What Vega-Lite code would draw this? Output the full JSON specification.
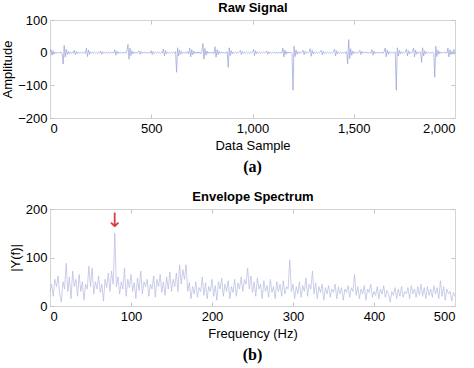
{
  "$schema": "https://vega.github.io/schema/vega-lite/v6.json",
  "padding": {"left": 1, "top": 1, "right": 4, "bottom": 0},
  "background": "white",
  "config": {
    "view": {"stroke": "#d4d4d4", "strokeWidth": 1},
    "font": "Liberation Sans",
    "axis": {"grid": false, "domainColor": "#d4d4d4", "tickColor": "#c4c4c4", "tickSize": -4, "labelFontSize": 13, "labelColor": "black", "titleFontSize": 13, "titleFontWeight": "normal", "titleColor": "black", "titlePadding": 4},
    "axisX": {"labelPadding": 8},
    "axisY": {"labelPadding": 7, "titlePadding": 3},
    "title": {"orient": "bottom", "font": "Liberation Serif", "fontSize": 16, "fontWeight": "bold", "anchor": "middle", "offset": 7, "color": "black"},
    "concat": {"spacing": 14}
  },
  "datasets": {
    "raw": [
      {"sample":0,"amplitude":2},{"sample":5,"amplitude":10},{"sample":10,"amplitude":-8},{"sample":15,"amplitude":6},{"sample":20,"amplitude":-4},{"sample":25,"amplitude":2},{"sample":30,"amplitude":-1},{"sample":35,"amplitude":1},{"sample":40,"amplitude":-2},{"sample":45,"amplitude":1},
      {"sample":50,"amplitude":-1},{"sample":55,"amplitude":2},{"sample":60,"amplitude":-3},{"sample":65,"amplitude":-35},{"sample":70,"amplitude":22},{"sample":75,"amplitude":-14},{"sample":80,"amplitude":10},{"sample":85,"amplitude":-6},{"sample":90,"amplitude":4},{"sample":95,"amplitude":-3},
      {"sample":100,"amplitude":2},{"sample":105,"amplitude":-2},{"sample":110,"amplitude":1},{"sample":115,"amplitude":-1},{"sample":120,"amplitude":7},{"sample":125,"amplitude":-6},{"sample":130,"amplitude":4},{"sample":135,"amplitude":-3},{"sample":140,"amplitude":2},{"sample":145,"amplitude":-1},
      {"sample":150,"amplitude":1},{"sample":155,"amplitude":-2},{"sample":160,"amplitude":1},{"sample":165,"amplitude":-1},{"sample":170,"amplitude":2},{"sample":175,"amplitude":-2},{"sample":180,"amplitude":14},{"sample":185,"amplitude":-12},{"sample":190,"amplitude":8},{"sample":195,"amplitude":-5},
      {"sample":200,"amplitude":3},{"sample":205,"amplitude":-2},{"sample":210,"amplitude":1},{"sample":215,"amplitude":-1},{"sample":220,"amplitude":2},{"sample":225,"amplitude":-1},{"sample":230,"amplitude":1},{"sample":235,"amplitude":-2},{"sample":240,"amplitude":1},{"sample":245,"amplitude":-1},
      {"sample":250,"amplitude":5},{"sample":255,"amplitude":-5},{"sample":260,"amplitude":3},{"sample":265,"amplitude":-2},{"sample":270,"amplitude":1},{"sample":275,"amplitude":-1},{"sample":280,"amplitude":2},{"sample":285,"amplitude":-1},{"sample":290,"amplitude":1},{"sample":295,"amplitude":-1},
      {"sample":300,"amplitude":2},{"sample":305,"amplitude":-2},{"sample":310,"amplitude":1},{"sample":315,"amplitude":-1},{"sample":320,"amplitude":9},{"sample":325,"amplitude":-8},{"sample":330,"amplitude":5},{"sample":335,"amplitude":-3},{"sample":340,"amplitude":2},{"sample":345,"amplitude":-1},
      {"sample":350,"amplitude":1},{"sample":355,"amplitude":-2},{"sample":360,"amplitude":1},{"sample":365,"amplitude":-1},{"sample":370,"amplitude":2},{"sample":375,"amplitude":-2},{"sample":380,"amplitude":6},{"sample":385,"amplitude":25},{"sample":390,"amplitude":-20},{"sample":395,"amplitude":14},
      {"sample":400,"amplitude":-9},{"sample":405,"amplitude":6},{"sample":410,"amplitude":-4},{"sample":415,"amplitude":2},{"sample":420,"amplitude":-1},{"sample":425,"amplitude":1},{"sample":430,"amplitude":-2},{"sample":435,"amplitude":1},{"sample":440,"amplitude":5},{"sample":445,"amplitude":-5},
      {"sample":450,"amplitude":3},{"sample":455,"amplitude":-2},{"sample":460,"amplitude":1},{"sample":465,"amplitude":-1},{"sample":470,"amplitude":2},{"sample":475,"amplitude":-1},{"sample":480,"amplitude":1},{"sample":485,"amplitude":-2},{"sample":490,"amplitude":1},{"sample":495,"amplitude":-1},
      {"sample":500,"amplitude":6},{"sample":505,"amplitude":-6},{"sample":510,"amplitude":4},{"sample":515,"amplitude":-2},{"sample":520,"amplitude":1},{"sample":525,"amplitude":-1},{"sample":530,"amplitude":2},{"sample":535,"amplitude":-1},{"sample":540,"amplitude":1},{"sample":545,"amplitude":-2},
      {"sample":550,"amplitude":1},{"sample":555,"amplitude":-1},{"sample":560,"amplitude":11},{"sample":565,"amplitude":-10},{"sample":570,"amplitude":7},{"sample":575,"amplitude":-4},{"sample":580,"amplitude":2},{"sample":585,"amplitude":-1},{"sample":590,"amplitude":1},{"sample":595,"amplitude":-2},
      {"sample":600,"amplitude":1},{"sample":605,"amplitude":-1},{"sample":610,"amplitude":2},{"sample":615,"amplitude":-1},{"sample":620,"amplitude":3},{"sample":625,"amplitude":-60},{"sample":630,"amplitude":15},{"sample":635,"amplitude":-10},{"sample":640,"amplitude":8},{"sample":645,"amplitude":-5},
      {"sample":650,"amplitude":3},{"sample":655,"amplitude":-2},{"sample":660,"amplitude":1},{"sample":665,"amplitude":-1},{"sample":670,"amplitude":2},{"sample":675,"amplitude":-2},{"sample":680,"amplitude":3},{"sample":685,"amplitude":-4},{"sample":690,"amplitude":14},{"sample":695,"amplitude":-13},
      {"sample":700,"amplitude":9},{"sample":705,"amplitude":-6},{"sample":710,"amplitude":5},{"sample":715,"amplitude":-3},{"sample":720,"amplitude":2},{"sample":725,"amplitude":-2},{"sample":730,"amplitude":3},{"sample":735,"amplitude":-2},{"sample":740,"amplitude":2},{"sample":745,"amplitude":-3},
      {"sample":750,"amplitude":4},{"sample":755,"amplitude":28},{"sample":760,"amplitude":-20},{"sample":765,"amplitude":13},{"sample":770,"amplitude":-8},{"sample":775,"amplitude":5},{"sample":780,"amplitude":-3},{"sample":785,"amplitude":2},{"sample":790,"amplitude":-1},{"sample":795,"amplitude":1},
      {"sample":800,"amplitude":-2},{"sample":805,"amplitude":2},{"sample":810,"amplitude":-3},{"sample":815,"amplitude":18},{"sample":820,"amplitude":-14},{"sample":825,"amplitude":9},{"sample":830,"amplitude":-6},{"sample":835,"amplitude":4},{"sample":840,"amplitude":-2},{"sample":845,"amplitude":1},
      {"sample":850,"amplitude":-1},{"sample":855,"amplitude":2},{"sample":860,"amplitude":-1},{"sample":865,"amplitude":1},{"sample":870,"amplitude":-2},{"sample":875,"amplitude":3},{"sample":880,"amplitude":-45},{"sample":885,"amplitude":15},{"sample":890,"amplitude":-9},{"sample":895,"amplitude":6},
      {"sample":900,"amplitude":-4},{"sample":905,"amplitude":2},{"sample":910,"amplitude":-1},{"sample":915,"amplitude":1},{"sample":920,"amplitude":-2},{"sample":925,"amplitude":1},{"sample":930,"amplitude":-1},{"sample":935,"amplitude":2},{"sample":940,"amplitude":7},{"sample":945,"amplitude":-6},
      {"sample":950,"amplitude":4},{"sample":955,"amplitude":-2},{"sample":960,"amplitude":1},{"sample":965,"amplitude":-1},{"sample":970,"amplitude":2},{"sample":975,"amplitude":-1},{"sample":980,"amplitude":1},{"sample":985,"amplitude":-2},{"sample":990,"amplitude":1},{"sample":995,"amplitude":-1},
      {"sample":1000,"amplitude":3},{"sample":1005,"amplitude":10},{"sample":1010,"amplitude":-9},{"sample":1015,"amplitude":6},{"sample":1020,"amplitude":-3},{"sample":1025,"amplitude":2},{"sample":1030,"amplitude":-1},{"sample":1035,"amplitude":1},{"sample":1040,"amplitude":-2},{"sample":1045,"amplitude":1},
      {"sample":1050,"amplitude":-1},{"sample":1055,"amplitude":2},{"sample":1060,"amplitude":-1},{"sample":1065,"amplitude":1},{"sample":1070,"amplitude":5},{"sample":1075,"amplitude":-5},{"sample":1080,"amplitude":3},{"sample":1085,"amplitude":-2},{"sample":1090,"amplitude":1},{"sample":1095,"amplitude":-1},
      {"sample":1100,"amplitude":2},{"sample":1105,"amplitude":-1},{"sample":1110,"amplitude":1},{"sample":1115,"amplitude":-2},{"sample":1120,"amplitude":1},{"sample":1125,"amplitude":-1},{"sample":1130,"amplitude":2},{"sample":1135,"amplitude":-2},{"sample":1140,"amplitude":1},{"sample":1145,"amplitude":-1},
      {"sample":1150,"amplitude":14},{"sample":1155,"amplitude":-13},{"sample":1160,"amplitude":8},{"sample":1165,"amplitude":-5},{"sample":1170,"amplitude":3},{"sample":1175,"amplitude":-2},{"sample":1180,"amplitude":2},{"sample":1185,"amplitude":-1},{"sample":1190,"amplitude":2},{"sample":1195,"amplitude":-3},
      {"sample":1200,"amplitude":-115},{"sample":1205,"amplitude":20},{"sample":1210,"amplitude":-12},{"sample":1215,"amplitude":8},{"sample":1220,"amplitude":-5},{"sample":1225,"amplitude":3},{"sample":1230,"amplitude":-2},{"sample":1235,"amplitude":1},{"sample":1240,"amplitude":-1},{"sample":1245,"amplitude":2},
      {"sample":1250,"amplitude":7},{"sample":1255,"amplitude":-6},{"sample":1260,"amplitude":4},{"sample":1265,"amplitude":-2},{"sample":1270,"amplitude":1},{"sample":1275,"amplitude":-1},{"sample":1280,"amplitude":2},{"sample":1285,"amplitude":12},{"sample":1290,"amplitude":-11},{"sample":1295,"amplitude":7},
      {"sample":1300,"amplitude":-4},{"sample":1305,"amplitude":2},{"sample":1310,"amplitude":-1},{"sample":1315,"amplitude":1},{"sample":1320,"amplitude":-2},{"sample":1325,"amplitude":1},{"sample":1330,"amplitude":-1},{"sample":1335,"amplitude":2},{"sample":1340,"amplitude":7},{"sample":1345,"amplitude":-7},
      {"sample":1350,"amplitude":4},{"sample":1355,"amplitude":-2},{"sample":1360,"amplitude":1},{"sample":1365,"amplitude":-1},{"sample":1370,"amplitude":2},{"sample":1375,"amplitude":-1},{"sample":1380,"amplitude":1},{"sample":1385,"amplitude":-2},{"sample":1390,"amplitude":1},{"sample":1395,"amplitude":-1},
      {"sample":1400,"amplitude":2},{"sample":1405,"amplitude":11},{"sample":1410,"amplitude":-10},{"sample":1415,"amplitude":6},{"sample":1420,"amplitude":-4},{"sample":1425,"amplitude":2},{"sample":1430,"amplitude":-1},{"sample":1435,"amplitude":1},{"sample":1440,"amplitude":-2},{"sample":1445,"amplitude":1},
      {"sample":1450,"amplitude":-1},{"sample":1455,"amplitude":2},{"sample":1460,"amplitude":-2},{"sample":1465,"amplitude":3},{"sample":1470,"amplitude":-35},{"sample":1475,"amplitude":40},{"sample":1480,"amplitude":-18},{"sample":1485,"amplitude":12},{"sample":1490,"amplitude":-8},{"sample":1495,"amplitude":5},
      {"sample":1500,"amplitude":-3},{"sample":1505,"amplitude":2},{"sample":1510,"amplitude":-1},{"sample":1515,"amplitude":1},{"sample":1520,"amplitude":-2},{"sample":1525,"amplitude":1},{"sample":1530,"amplitude":7},{"sample":1535,"amplitude":-6},{"sample":1540,"amplitude":4},{"sample":1545,"amplitude":-2},
      {"sample":1550,"amplitude":1},{"sample":1555,"amplitude":-1},{"sample":1560,"amplitude":2},{"sample":1565,"amplitude":-1},{"sample":1570,"amplitude":1},{"sample":1575,"amplitude":-2},{"sample":1580,"amplitude":1},{"sample":1585,"amplitude":-1},{"sample":1590,"amplitude":9},{"sample":1595,"amplitude":-8},
      {"sample":1600,"amplitude":5},{"sample":1605,"amplitude":-3},{"sample":1610,"amplitude":2},{"sample":1615,"amplitude":-1},{"sample":1620,"amplitude":1},{"sample":1625,"amplitude":-2},{"sample":1630,"amplitude":1},{"sample":1635,"amplitude":-1},{"sample":1640,"amplitude":2},{"sample":1645,"amplitude":-2},
      {"sample":1650,"amplitude":3},{"sample":1655,"amplitude":14},{"sample":1660,"amplitude":-13},{"sample":1665,"amplitude":8},{"sample":1670,"amplitude":-5},{"sample":1675,"amplitude":3},{"sample":1680,"amplitude":-2},{"sample":1685,"amplitude":1},{"sample":1690,"amplitude":-1},{"sample":1695,"amplitude":2},
      {"sample":1700,"amplitude":-1},{"sample":1705,"amplitude":2},{"sample":1710,"amplitude":-115},{"sample":1715,"amplitude":15},{"sample":1720,"amplitude":-10},{"sample":1725,"amplitude":7},{"sample":1730,"amplitude":-4},{"sample":1735,"amplitude":3},{"sample":1740,"amplitude":-2},{"sample":1745,"amplitude":1},
      {"sample":1750,"amplitude":-1},{"sample":1755,"amplitude":2},{"sample":1760,"amplitude":11},{"sample":1765,"amplitude":-10},{"sample":1770,"amplitude":6},{"sample":1775,"amplitude":-4},{"sample":1780,"amplitude":2},{"sample":1785,"amplitude":-1},{"sample":1790,"amplitude":3},{"sample":1795,"amplitude":14},
      {"sample":1800,"amplitude":-13},{"sample":1805,"amplitude":8},{"sample":1810,"amplitude":-5},{"sample":1815,"amplitude":3},{"sample":1820,"amplitude":-2},{"sample":1825,"amplitude":1},{"sample":1830,"amplitude":2},{"sample":1835,"amplitude":-30},{"sample":1840,"amplitude":15},{"sample":1845,"amplitude":-10},
      {"sample":1850,"amplitude":6},{"sample":1855,"amplitude":-4},{"sample":1860,"amplitude":2},{"sample":1865,"amplitude":-1},{"sample":1870,"amplitude":1},{"sample":1875,"amplitude":-2},{"sample":1880,"amplitude":1},{"sample":1885,"amplitude":-1},{"sample":1890,"amplitude":2},{"sample":1895,"amplitude":-2},
      {"sample":1900,"amplitude":-75},{"sample":1905,"amplitude":20},{"sample":1910,"amplitude":-12},{"sample":1915,"amplitude":8},{"sample":1920,"amplitude":-5},{"sample":1925,"amplitude":3},{"sample":1930,"amplitude":-2},{"sample":1935,"amplitude":1},{"sample":1940,"amplitude":-1},{"sample":1945,"amplitude":2},
      {"sample":1950,"amplitude":-1},{"sample":1955,"amplitude":1},{"sample":1960,"amplitude":-2},{"sample":1965,"amplitude":14},{"sample":1970,"amplitude":-13},{"sample":1975,"amplitude":9},{"sample":1980,"amplitude":-6},{"sample":1985,"amplitude":4},{"sample":1990,"amplitude":-2},{"sample":1995,"amplitude":10},
      {"sample":2000,"amplitude":-4}
    ],
    "spec": [
      {"freq":0,"mag":30},{"freq":2,"mag":45},{"freq":4,"mag":20},{"freq":6,"mag":55},{"freq":8,"mag":40},{"freq":10,"mag":62},{"freq":12,"mag":25},{"freq":14,"mag":8},{"freq":16,"mag":50},{"freq":18,"mag":35},
      {"freq":20,"mag":88},{"freq":22,"mag":30},{"freq":24,"mag":60},{"freq":26,"mag":15},{"freq":28,"mag":72},{"freq":30,"mag":40},{"freq":32,"mag":55},{"freq":34,"mag":20},{"freq":36,"mag":65},{"freq":38,"mag":30},
      {"freq":40,"mag":50},{"freq":42,"mag":12},{"freq":44,"mag":45},{"freq":46,"mag":35},{"freq":48,"mag":82},{"freq":50,"mag":40},{"freq":52,"mag":78},{"freq":54,"mag":25},{"freq":56,"mag":50},{"freq":58,"mag":35},
      {"freq":60,"mag":62},{"freq":62,"mag":28},{"freq":64,"mag":45},{"freq":66,"mag":10},{"freq":68,"mag":55},{"freq":70,"mag":38},{"freq":72,"mag":68},{"freq":74,"mag":30},{"freq":76,"mag":72},{"freq":78,"mag":45},
      {"freq":80,"mag":150},{"freq":82,"mag":40},{"freq":84,"mag":60},{"freq":86,"mag":25},{"freq":88,"mag":50},{"freq":90,"mag":35},{"freq":92,"mag":78},{"freq":94,"mag":20},{"freq":96,"mag":55},{"freq":98,"mag":38},
      {"freq":100,"mag":65},{"freq":102,"mag":30},{"freq":104,"mag":48},{"freq":106,"mag":15},{"freq":108,"mag":58},{"freq":110,"mag":32},{"freq":112,"mag":72},{"freq":114,"mag":25},{"freq":116,"mag":50},{"freq":118,"mag":40},
      {"freq":120,"mag":55},{"freq":122,"mag":20},{"freq":124,"mag":45},{"freq":126,"mag":35},{"freq":128,"mag":62},{"freq":130,"mag":18},{"freq":132,"mag":55},{"freq":134,"mag":40},{"freq":136,"mag":65},{"freq":138,"mag":28},
      {"freq":140,"mag":50},{"freq":142,"mag":22},{"freq":144,"mag":60},{"freq":146,"mag":35},{"freq":148,"mag":70},{"freq":150,"mag":30},{"freq":152,"mag":55},{"freq":154,"mag":40},{"freq":156,"mag":68},{"freq":158,"mag":30},
      {"freq":160,"mag":85},{"freq":162,"mag":45},{"freq":164,"mag":75},{"freq":166,"mag":55},{"freq":168,"mag":85},{"freq":170,"mag":30},{"freq":172,"mag":48},{"freq":174,"mag":15},{"freq":176,"mag":40},{"freq":178,"mag":25},
      {"freq":180,"mag":50},{"freq":182,"mag":18},{"freq":184,"mag":38},{"freq":186,"mag":30},{"freq":188,"mag":60},{"freq":190,"mag":22},{"freq":192,"mag":48},{"freq":194,"mag":15},{"freq":196,"mag":40},{"freq":198,"mag":30},
      {"freq":200,"mag":55},{"freq":202,"mag":20},{"freq":204,"mag":42},{"freq":206,"mag":12},{"freq":208,"mag":50},{"freq":210,"mag":35},{"freq":212,"mag":58},{"freq":214,"mag":20},{"freq":216,"mag":45},{"freq":218,"mag":30},
      {"freq":220,"mag":52},{"freq":222,"mag":15},{"freq":224,"mag":40},{"freq":226,"mag":28},{"freq":228,"mag":55},{"freq":230,"mag":20},{"freq":232,"mag":48},{"freq":234,"mag":35},{"freq":236,"mag":60},{"freq":238,"mag":30},
      {"freq":240,"mag":55},{"freq":242,"mag":45},{"freq":244,"mag":78},{"freq":246,"mag":35},{"freq":248,"mag":62},{"freq":250,"mag":28},{"freq":252,"mag":50},{"freq":254,"mag":20},{"freq":256,"mag":58},{"freq":258,"mag":35},
      {"freq":260,"mag":45},{"freq":262,"mag":15},{"freq":264,"mag":52},{"freq":266,"mag":30},{"freq":268,"mag":42},{"freq":270,"mag":18},{"freq":272,"mag":55},{"freq":274,"mag":28},{"freq":276,"mag":40},{"freq":278,"mag":15},
      {"freq":280,"mag":50},{"freq":282,"mag":30},{"freq":284,"mag":45},{"freq":286,"mag":20},{"freq":288,"mag":52},{"freq":290,"mag":25},{"freq":292,"mag":40},{"freq":294,"mag":35},{"freq":296,"mag":95},{"freq":298,"mag":30},
      {"freq":300,"mag":45},{"freq":302,"mag":15},{"freq":304,"mag":40},{"freq":306,"mag":25},{"freq":308,"mag":50},{"freq":310,"mag":18},{"freq":312,"mag":42},{"freq":314,"mag":30},{"freq":316,"mag":58},{"freq":318,"mag":20},
      {"freq":320,"mag":45},{"freq":322,"mag":35},{"freq":324,"mag":72},{"freq":326,"mag":25},{"freq":328,"mag":48},{"freq":330,"mag":15},{"freq":332,"mag":40},{"freq":334,"mag":28},{"freq":336,"mag":45},{"freq":338,"mag":12},
      {"freq":340,"mag":38},{"freq":342,"mag":25},{"freq":344,"mag":42},{"freq":346,"mag":18},{"freq":348,"mag":35},{"freq":350,"mag":28},{"freq":352,"mag":45},{"freq":354,"mag":15},{"freq":356,"mag":40},{"freq":358,"mag":25},
      {"freq":360,"mag":38},{"freq":362,"mag":12},{"freq":364,"mag":35},{"freq":366,"mag":28},{"freq":368,"mag":42},{"freq":370,"mag":18},{"freq":372,"mag":38},{"freq":374,"mag":30},{"freq":376,"mag":65},{"freq":378,"mag":22},
      {"freq":380,"mag":40},{"freq":382,"mag":15},{"freq":384,"mag":35},{"freq":386,"mag":25},{"freq":388,"mag":42},{"freq":390,"mag":12},{"freq":392,"mag":35},{"freq":394,"mag":28},{"freq":396,"mag":45},{"freq":398,"mag":18},
      {"freq":400,"mag":30},{"freq":402,"mag":22},{"freq":404,"mag":40},{"freq":406,"mag":15},{"freq":408,"mag":35},{"freq":410,"mag":25},{"freq":412,"mag":42},{"freq":414,"mag":18},{"freq":416,"mag":32},{"freq":418,"mag":25},
      {"freq":420,"mag":8},{"freq":422,"mag":30},{"freq":424,"mag":22},{"freq":426,"mag":38},{"freq":428,"mag":15},{"freq":430,"mag":35},{"freq":432,"mag":20},{"freq":434,"mag":40},{"freq":436,"mag":18},{"freq":438,"mag":30},
      {"freq":440,"mag":25},{"freq":442,"mag":38},{"freq":444,"mag":15},{"freq":446,"mag":42},{"freq":448,"mag":25},{"freq":450,"mag":35},{"freq":452,"mag":18},{"freq":454,"mag":40},{"freq":456,"mag":22},{"freq":458,"mag":45},
      {"freq":460,"mag":20},{"freq":462,"mag":38},{"freq":464,"mag":15},{"freq":466,"mag":40},{"freq":468,"mag":22},{"freq":470,"mag":35},{"freq":472,"mag":18},{"freq":474,"mag":42},{"freq":476,"mag":25},{"freq":478,"mag":38},
      {"freq":480,"mag":15},{"freq":482,"mag":52},{"freq":484,"mag":20},{"freq":486,"mag":40},{"freq":488,"mag":12},{"freq":490,"mag":35},{"freq":492,"mag":25},{"freq":494,"mag":30},{"freq":496,"mag":10},{"freq":498,"mag":28},
      {"freq":500,"mag":20}
    ],
    "marker": [{"freq": 80, "mag": 175, "label": "↓"}]
  },
  "vconcat": [
    {
      "title": {"text": "(a)"},
      "width": 405,
      "height": 98,
      "resolve": {"axis": {"x": "independent", "y": "independent"}},
      "layer": [
        {
          "data": {"name": "raw"},
          "mark": {"type": "line", "color": "#96a0d6", "strokeWidth": 0.7},
          "encoding": {
            "x": {"field": "sample", "type": "quantitative", "scale": {"domain": [0, 2000], "nice": false}, "axis": {"orient": "bottom", "values": [0, 500, 1000, 1500, 2000], "title": "Data Sample"}},
            "y": {"field": "amplitude", "type": "quantitative", "scale": {"domain": [-200, 100], "nice": false}, "axis": {"orient": "left", "values": [-200, -100, 0, 100], "title": "Amplitude"}}
          }
        },
        {
          "data": {"name": "raw"},
          "mark": {"type": "line", "opacity": 0},
          "encoding": {
            "x": {"field": "sample", "type": "quantitative", "axis": {"orient": "top", "labels": false, "values": [0, 500, 1000, 1500, 2000], "title": "Raw Signal", "titleFontWeight": "bold", "titlePadding": 5}},
            "y": {"field": "amplitude", "type": "quantitative", "axis": {"orient": "right", "labels": false, "values": [-200, -100, 0, 100], "title": null}}
          }
        }
      ]
    },
    {
      "title": {"text": "(b)"},
      "width": 405,
      "height": 97,
      "resolve": {"axis": {"x": "independent", "y": "independent"}},
      "layer": [
        {
          "data": {"name": "spec"},
          "mark": {"type": "line", "color": "#b4b9e0", "strokeWidth": 0.7},
          "encoding": {
            "x": {"field": "freq", "type": "quantitative", "scale": {"domain": [0, 500], "nice": false}, "axis": {"orient": "bottom", "values": [0, 100, 200, 300, 400, 500], "title": "Frequency (Hz)"}},
            "y": {"field": "mag", "type": "quantitative", "scale": {"domain": [0, 200], "nice": false}, "axis": {"orient": "left", "values": [0, 100, 200], "title": "|Y(f)|"}}
          }
        },
        {
          "data": {"name": "marker"},
          "mark": {"type": "text", "color": "#e0383c", "fontSize": 20, "font": "DejaVu Sans", "baseline": "middle", "align": "center"},
          "encoding": {
            "x": {"field": "freq", "type": "quantitative", "axis": {"orient": "top", "labels": false, "values": [0, 100, 200, 300, 400, 500], "title": "Envelope Spectrum", "titleFontWeight": "bold", "titlePadding": 5}},
            "y": {"field": "mag", "type": "quantitative", "axis": {"orient": "right", "labels": false, "values": [0, 100, 200], "title": null}},
            "text": {"field": "label"}
          }
        }
      ]
    }
  ]
}
